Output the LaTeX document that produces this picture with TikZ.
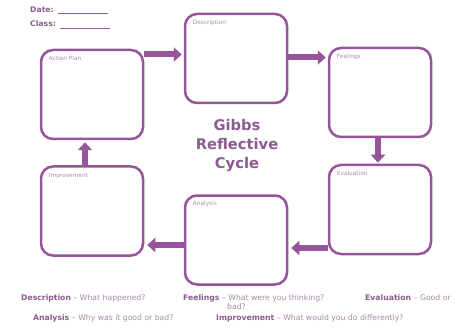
\documentclass[tikz,border=0pt]{standalone}
\usepackage{fontspec}
\setmainfont{DejaVu Sans}
\usetikzlibrary{arrows.meta,calc}
\definecolor{pur}{HTML}{96559B}
\definecolor{titlec}{HTML}{8E5A92}
\definecolor{lblc}{HTML}{A98BAB}
\definecolor{legb}{HTML}{8B5B8E}
\definecolor{legn}{HTML}{A48AA6}
\begin{document}
\begin{tikzpicture}[x=1pt,y=-1pt,
  box/.style={draw=pur,line width=2.5pt,rounded corners=12pt,minimum width=102pt,minimum height=89pt,inner sep=0pt},
  lbl/.style={anchor=west,inner sep=0pt,text=lblc,font=\fontsize{5.8}{7}\selectfont},
  arr/.style={draw=pur,line width=6pt,-{Triangle[length=8pt,width=14pt]}},
  leg/.style={anchor=west,inner sep=0pt,text=legn,font=\fontsize{7.7}{9}\selectfont},
  hdr/.style={anchor=west,inner sep=0pt,text=legb,font=\bfseries\fontsize{7.7}{9}\selectfont},
  uline/.style={draw=legb,line width=0.7pt}]
\useasboundingbox (0,0) rectangle (474,334);
\fill[white] (0,0) rectangle (474,334);
% boxes
\node[box] (ap)   at (92,94.5) {};
\node[box] (desc) at (236,58.5) {};
\node[box] (feel) at (380,92.5) {};
\node[box] (eval) at (380,209.5) {};
\node[box] (ana)  at (236,240) {};
\node[box] (imp)  at (92,211) {};
% box labels
\node[lbl] (lap)   at ([xshift=9pt,yshift=-10pt]ap.north west) {Action Plan};
\node[lbl] (ldesc) at ([xshift=9pt,yshift=-10pt]desc.north west) {Description};
\node[lbl] (lfeel) at ([xshift=9pt,yshift=-10pt]feel.north west) {Feelings};
\node[lbl] (leval) at ([xshift=9pt,yshift=-10pt]eval.north west) {Evaluation};
\node[lbl] (lana)  at ([xshift=9pt,yshift=-10pt]ana.north west) {Analysis};
\node[lbl] (limp)  at ([xshift=9pt,yshift=-11pt]imp.north west) {Improvement};
% arrows
\draw[arr] ([yshift=4pt]desc.west -| ap.east) -- ([yshift=4pt,xshift=-2pt]desc.west);
\draw[arr] ([yshift=1pt]desc.east) -- ([yshift=1pt,xshift=-2pt]desc.east -| feel.west);
\draw[arr] ([xshift=-2pt]feel.south) -- ([xshift=-2pt,yshift=1pt]eval.north);
\draw[arr] ([yshift=-8pt]ana.east -| eval.west) -- ([yshift=-8pt,xshift=3pt]ana.east);
\draw[arr] ([yshift=-5pt]ana.west) -- ([yshift=-5pt,xshift=3pt]ana.west -| imp.east);
\draw[arr] ([xshift=-7pt]imp.north) -- ([xshift=-7pt,yshift=-2pt]imp.north |- ap.south);
% title
\node[align=center,text=titlec,font=\bfseries\fontsize{14.7}{19}\selectfont] (title) at (237,146) {Gibbs\\Reflective\\Cycle};
% date / class
\node[hdr] (date) at (30,10) {Date:};
\node[hdr] (class) at (30,24) {Class:};
\draw[uline] ([xshift=4pt,yshift=-1pt]date.base east) -- ++(50,0);
\draw[uline] ([xshift=4pt,yshift=-1pt]class.base east) -- ++(50,0);
% legend
\node[hdr] (ld) at (21,298) {Description \textmd{\color{legn}– What happened?}};
\node[hdr] (lf) at (183,298) {Feelings \textmd{\color{legn}– What were you thinking?}};
\node[hdr] (le) at (365,298) {Evaluation \textmd{\color{legn}– Good or}};
\node[leg] (lb) at (227,307) {bad?};
\node[hdr] (la) at (33,318) {Analysis \textmd{\color{legn}– Why was it good or bad?}};
\node[hdr] (li) at (216,318) {Improvement \textmd{\color{legn}– What would you do differently?}};
\end{tikzpicture}
\end{document}
